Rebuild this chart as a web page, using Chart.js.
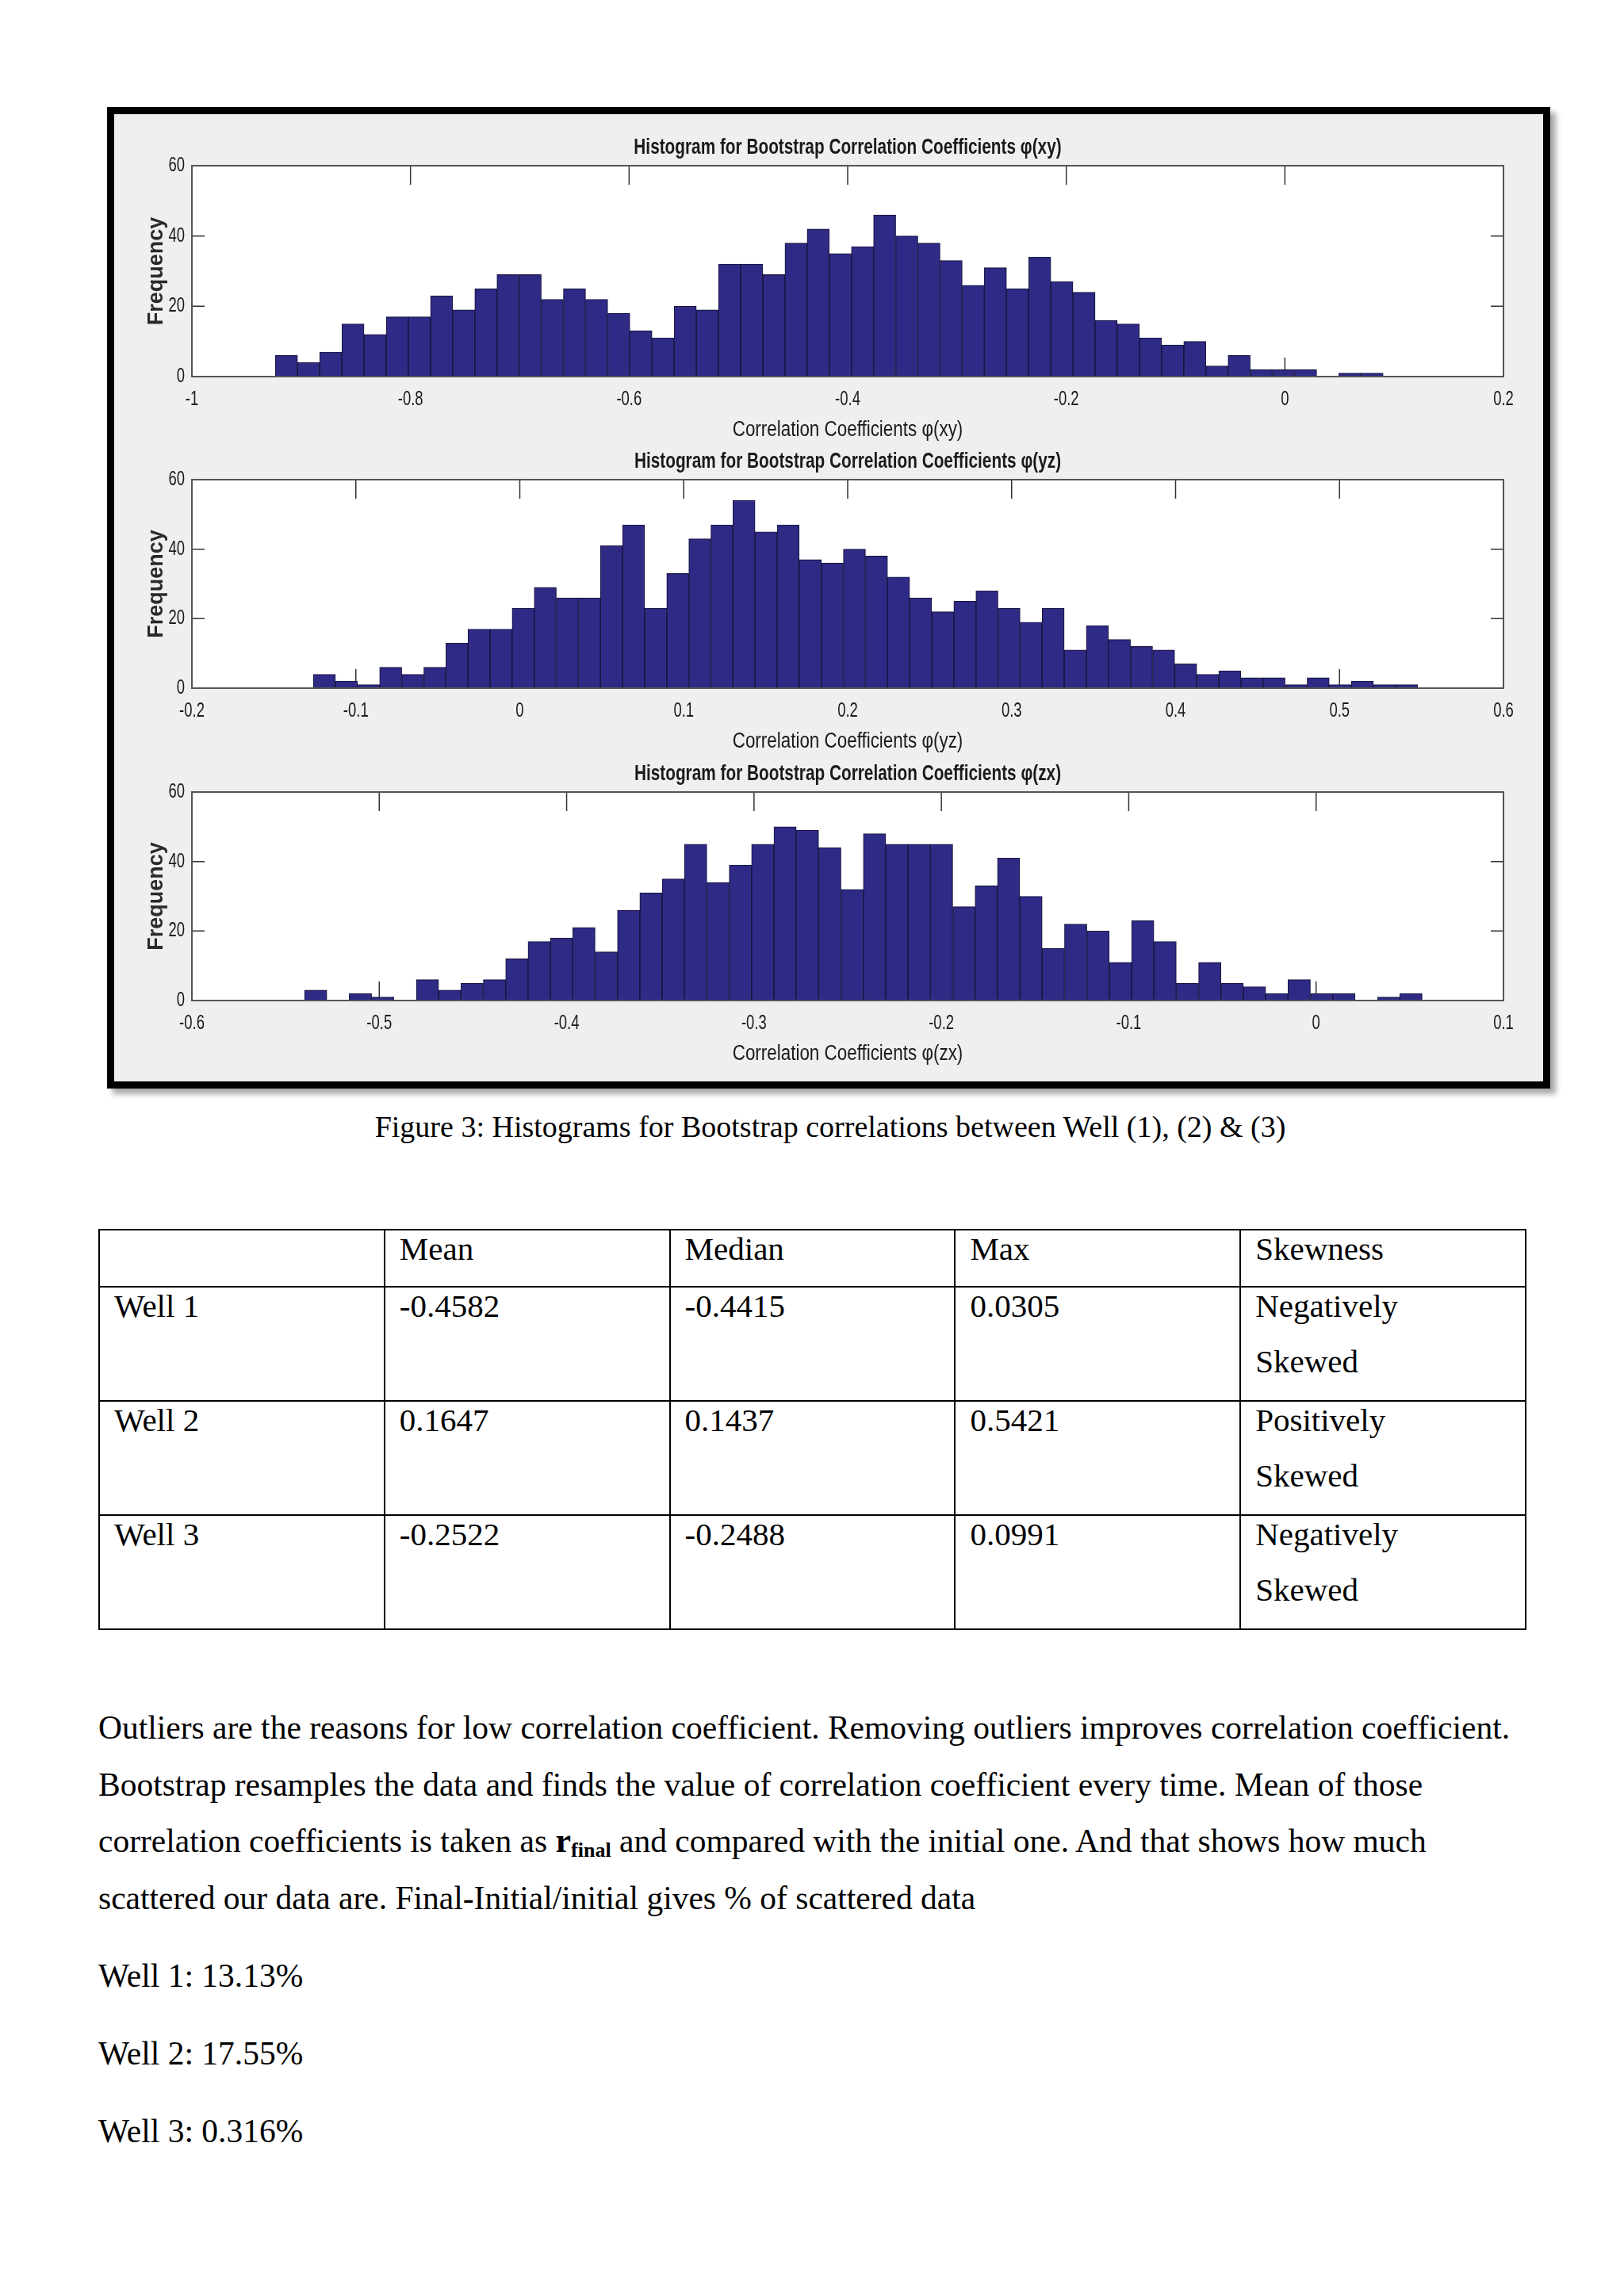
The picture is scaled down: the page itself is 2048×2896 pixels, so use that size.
<!DOCTYPE html>
<html lang="en">
<head>
  <meta charset="UTF-8" />
  <title>Histograms for Bootstrap correlations</title>
  <script src="https://cdn.jsdelivr.net/npm/chart.js"></script>
  <style>
    body {
      margin: 0;
      width: 2048px;
      height: 2896px;
      background: #fff;
      position: relative;
      font-family: "Liberation Serif", "Times New Roman", serif;
      color: #000;
    }
    .frame {
      position: absolute;
      left: 135px; top: 135px;
      width: 1820px; height: 1238px;
      box-sizing: border-box;
      border: 9px solid #000;
      background: #efefef;
      box-shadow: 7px 7px 7px rgba(0,0,0,0.35);
    }
    canvas { position: absolute; left: 144px; }
    .caption {
      position: absolute;
      left: 0; width: 2094px; top: 1398px;
      text-align: center;
      font-size: 38px; line-height: 46px;
      white-space: nowrap;
    }
    table {
      position: absolute;
      left: 124px; top: 1550px;
      width: 1801px;
      border-collapse: collapse;
      table-layout: fixed;
      font-size: 41px;
    }
    td {
      border: 2px solid #000;
      vertical-align: top;
      padding: 0 0 0 18px;
      line-height: 70px;
    }
    td div { position: relative; top: -12px; }
    .txt {
      position: absolute;
      left: 124px;
      font-size: 41.5px;
      line-height: 71.5px;
      white-space: nowrap;
    }
    .txt b { font-size: 44px; line-height: 0; }
    .txt sub { font-size: 26px; line-height: 0; vertical-align: baseline; position: relative; top: 6px; }
  </style>
</head>
<body>
  <div class="frame"></div>
  <canvas id="c1" width="1802" height="416" style="top:149px"></canvas>
  <canvas id="c2" width="1802" height="413" style="top:545px"></canvas>
  <canvas id="c3" width="1802" height="413" style="top:939px"></canvas>

  <div class="caption">Figure 3: Histograms for Bootstrap correlations between Well (1), (2) &amp; (3)</div>

  <table>
    <tr style="height:72px"><td><div></div></td><td><div>Mean</div></td><td><div>Median</div></td><td><div>Max</div></td><td><div>Skewness</div></td></tr>
    <tr style="height:144px"><td><div>Well 1</div></td><td><div>-0.4582</div></td><td><div>-0.4415</div></td><td><div>0.0305</div></td><td><div>Negatively<br>Skewed</div></td></tr>
    <tr style="height:144px"><td><div>Well 2</div></td><td><div>0.1647</div></td><td><div>0.1437</div></td><td><div>0.5421</div></td><td><div>Positively<br>Skewed</div></td></tr>
    <tr style="height:144px"><td><div>Well 3</div></td><td><div>-0.2522</div></td><td><div>-0.2488</div></td><td><div>0.0991</div></td><td><div>Negatively<br>Skewed</div></td></tr>
  </table>

  <div class="txt" style="top:2144px">Outliers are the reasons for low correlation coefficient. Removing outliers improves correlation coefficient.<br>Bootstrap resamples the data and finds the value of correlation coefficient every time. Mean of those<br>correlation coefficients is taken as <b>r<sub>final</sub></b> and compared with the initial one. And that shows how much<br>scattered our data are. Final-Initial/initial gives % of scattered data</div>
  <div class="txt" style="top:2457px">Well 1: 13.13%</div>
  <div class="txt" style="top:2555px">Well 2: 17.55%</div>
  <div class="txt" style="top:2653px">Well 3: 0.316%</div>

  <script>
  // bin counts (50 bins each)
  const countsXY = [6, 4, 7, 15, 12, 17, 17, 23, 19, 25, 29, 29, 22, 25, 22, 18, 13, 11, 20, 19,
                    32, 32, 29, 38, 42, 35, 37, 46, 40, 38, 33, 26, 31, 25, 34, 27, 24, 16, 15, 11,
                    9, 10, 3, 6, 2, 2, 2, 0, 1, 1];
  const countsYZ = [4, 2, 1, 6, 4, 6, 13, 17, 17, 23, 29, 26, 26, 41, 47, 23, 33, 43, 47, 54,
                    45, 47, 37, 36, 40, 38, 32, 26, 22, 25, 28, 23, 19, 23, 11, 18, 14, 12, 11, 7,
                    4, 5, 3, 3, 1, 3, 1, 2, 1, 1];
  const countsZX = [3, 0, 2, 1, 0, 6, 3, 5, 6, 12, 17, 18, 21, 14, 26, 31, 35, 45, 34, 39,
                    45, 50, 49, 44, 32, 48, 45, 45, 45, 27, 33, 41, 30, 15, 22, 20, 11, 23, 17, 5,
                    11, 5, 4, 2, 6, 2, 2, 0, 1, 2];

  // first bin edge and bin width of each histogram
  const binXY = { start: -0.9236, width: 0.02027 };
  const binYZ = { start: -0.1259, width: 0.01347 };
  const binZX = { start: -0.5399, width: 0.01193 };

  // axis ranges / tick steps
  const axisXY = { min: -1, max: 0.2, step: 0.2 };
  const axisYZ = { min: -0.2, max: 0.6, step: 0.1 };
  const axisZX = { min: -0.6, max: 0.1, step: 0.1 };
  const freqTicks = { min: 0, max: 60, step: 20 };

  const sans = "'Liberation Sans', Arial, Helvetica, sans-serif";
  const ink = '#1a1a1a';

  // narrow helvetica look: draw with a horizontal squeeze
  function squeezed(ctx, text, x, y, font, sx, align) {
    ctx.save();
    ctx.font = font;
    ctx.fillStyle = ink;
    ctx.textBaseline = 'middle';
    ctx.textAlign = align;
    ctx.translate(x, y);
    ctx.scale(sx, 1);
    ctx.fillText(text, 0, 0);
    ctx.restore();
  }

  // white axes box, inward ticks and narrow labels, matlab style
  const matlabAxes = {
    id: 'matlabAxes',
    beforeDraw(chart) {
      const { ctx, chartArea: a } = chart;
      ctx.save();
      ctx.fillStyle = '#fff';
      ctx.fillRect(a.left, a.top, a.right - a.left, a.bottom - a.top);
      ctx.restore();
    },
    beforeDatasetsDraw(chart) {
      const { ctx, chartArea: a, scales: { x, y } } = chart;
      ctx.save();
      ctx.strokeStyle = '#333';
      ctx.lineWidth = 1.5;
      ctx.beginPath();
      x.ticks.forEach(t => {
        const px = x.getPixelForValue(t.value);
        ctx.moveTo(px, a.top); ctx.lineTo(px, a.top + 24);
        ctx.moveTo(px, a.bottom); ctx.lineTo(px, a.bottom - 24);
      });
      y.ticks.forEach(t => {
        const py = y.getPixelForValue(t.value);
        ctx.moveTo(a.left, py); ctx.lineTo(a.left + 16, py);
        ctx.moveTo(a.right, py); ctx.lineTo(a.right - 16, py);
      });
      ctx.stroke();
      ctx.restore();
    },
    afterDatasetsDraw(chart) {
      const { ctx, chartArea: a } = chart;
      ctx.save();
      ctx.strokeStyle = '#555';
      ctx.lineWidth = 2;
      ctx.strokeRect(a.left, a.top, a.right - a.left, a.bottom - a.top);
      ctx.restore();
    },
    afterDraw(chart, args, opts) {
      const { ctx, chartArea: a, scales: { x, y } } = chart;
      const cx = (a.left + a.right) / 2;
      squeezed(ctx, opts.title, cx, a.top - 22, 'bold 27px ' + sans, 0.77, 'center');
      squeezed(ctx, opts.xlabel, cx, a.bottom + 68, '27px ' + sans, 0.83, 'center');
      x.ticks.forEach(t => {
        squeezed(ctx, String(Number(t.value.toFixed(2))), x.getPixelForValue(t.value), a.bottom + 29,
                 '25px ' + sans, 0.74, 'center');
      });
      y.ticks.forEach(t => {
        squeezed(ctx, String(t.value), a.left - 9, y.getPixelForValue(t.value),
                 '25px ' + sans, 0.74, 'right');
      });
    }
  };

  function makeHist(id, counts, bin, axis, name) {
    const points = counts.map((c, i) => ({ x: bin.start + (i + 0.5) * bin.width, y: c }));
    new Chart(document.getElementById(id), {
      type: 'bar',
      data: {
        datasets: [{
          data: points,
          backgroundColor: '#2f2a85',
          borderColor: '#1a1745',
          borderWidth: 1.2,
          barPercentage: 1,
          categoryPercentage: 1
        }]
      },
      plugins: [matlabAxes],
      options: {
        responsive: false,
        animation: false,
        layout: { padding: { left: 0, right: 50, top: 60, bottom: 0 } },
        plugins: {
          legend: { display: false },
          tooltip: { enabled: false },
          title: { display: false },
          matlabAxes: {
            title: 'Histogram for Bootstrap Correlation Coefficients ' + name,
            xlabel: 'Correlation Coefficients ' + name
          }
        },
        scales: {
          x: {
            type: 'linear',
            min: axis.min, max: axis.max,
            offset: false,
            grid: { display: false, drawTicks: false },
            border: { display: false },
            ticks: { stepSize: axis.step, display: false },
            afterFit: s => { s.height = 90; }
          },
          y: {
            min: freqTicks.min, max: freqTicks.max,
            grid: { display: false, drawTicks: false },
            border: { display: false },
            ticks: { stepSize: freqTicks.step, display: false },
            title: {
              display: true,
              text: 'Frequency',
              color: '#2a2a2a',
              font: { family: sans, size: 27, weight: 'bold', lineHeight: 1.2 },
              padding: { top: 37, bottom: 0 }
            },
            afterFit: s => { s.width = 98; }
          }
        }
      }
    });
  }

  makeHist('c1', countsXY, binXY, axisXY, 'φ(xy)');
  makeHist('c2', countsYZ, binYZ, axisYZ, 'φ(yz)');
  makeHist('c3', countsZX, binZX, axisZX, 'φ(zx)');
  </script>
</body>
</html>
